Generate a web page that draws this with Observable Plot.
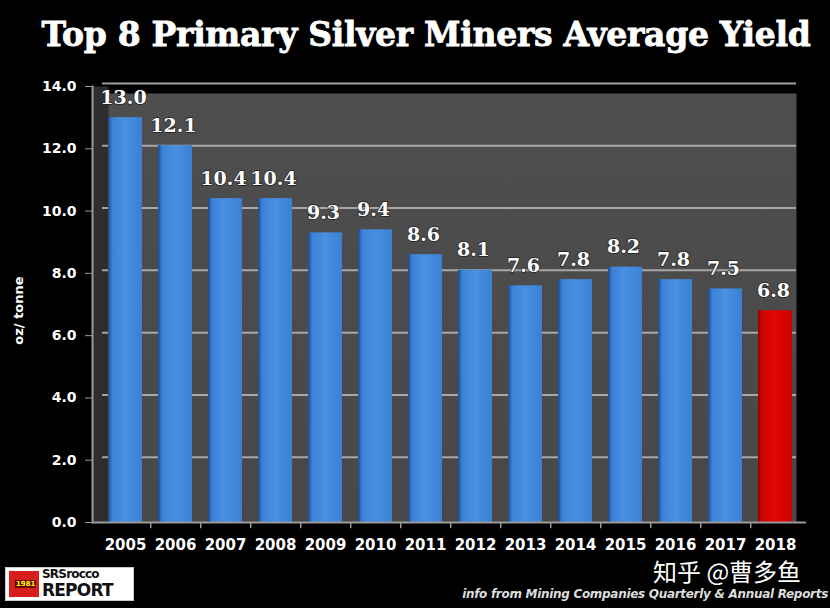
<!DOCTYPE html>
<html>
<head>
<meta charset="utf-8">
<script src="https://cdn.jsdelivr.net/npm/d3@7"></script>
<script src="https://cdn.jsdelivr.net/npm/@observablehq/plot@0.6"></script>
<style>
  html, body { margin: 0; padding: 0; background: #000; }
  #wrap { position: relative; width: 830px; height: 608px; overflow: hidden; background: #000; }
  #title { position: absolute; left: 0; top: 16px; width: 852px; text-align: center; line-height: 38px;
    font-family: "DejaVu Serif", serif; font-weight: bold; font-size: 33px; color: #fff;
    -webkit-text-stroke: 0.8px #fff; letter-spacing: -0.3px; white-space: nowrap; }
  #chart { position: absolute; left: 0; top: 70px; }
  #logo { position: absolute; left: 5px; top: 567px; width: 129px; height: 34px; background: #fff;
    border: 1px solid #ccc; box-sizing: border-box; }
  #logo .sq { position: absolute; left: 3px; top: 3px; width: 30px; height: 26px; background: #d81d1d; }
  #logo .sq span { position: absolute; left: 6px; top: 9px; font: bold 7px/8px "DejaVu Sans"; color: #ff0; background:#600; padding:0 1px; }
  #logo .l1 { position: absolute; left: 36px; top: 0px; font: bold 12px/12px "DejaVu Sans"; color: #111; letter-spacing: -0.8px; }
  #logo .l2 { position: absolute; left: 36px; top: 14px; font: bold 17px/16px "DejaVu Sans"; color: #111; letter-spacing: -0.8px; }
  #caption { position: absolute; right: 2px; top: 587px; font: italic bold 12px/14px "DejaVu Sans", sans-serif;
    color: #ddd; white-space: nowrap; letter-spacing: -0.3px; }
  #wm { position: absolute; left: 653px; top: 559px; font: 24px/24px "Noto Sans CJK SC", sans-serif; color: #fff; white-space: nowrap; }
</style>
</head>
<body>
<div id="wrap">
  <div id="title">Top 8 Primary Silver Miners Average Yield</div>
  <div id="chart"></div>
  <div id="logo"><div class="sq"><span>1981</span></div><div class="l1">SRSrocco</div><div class="l2">REPORT</div></div>
  <div id="wm">知乎 @曹多鱼</div>
  <div id="caption">info from Mining Companies Quarterly &amp; Annual Reports</div>
</div>
<script>
const years = ["2005","2006","2007","2008","2009","2010","2011","2012","2013","2014","2015","2016","2017","2018"];
const yields = [13.0, 12.1, 10.4, 10.4, 9.3, 9.4, 8.6, 8.1, 7.6, 7.8, 8.2, 7.8, 7.5, 6.8];
const yTicks = [0, 2, 4, 6, 8, 10, 12, 14];
const highlightYear = "2018";
const yLabel = "oz/ tonne";

const data = years.map((y, i) => ({year: y, value: yields[i], hi: y === highlightYear}));
const boundaries = years.slice(0, -1);

const chart = Plot.plot({
  width: 830,
  height: 495,
  marginLeft: 97,
  marginRight: 28,
  marginTop: 16,
  marginBottom: 43,
  style: {background: "transparent", color: "#fff", overflow: "visible"},
  x: {domain: years, paddingInner: 0.325, paddingOuter: 0.16},
  y: {domain: [0, 14], ticks: yTicks},
  marks: [
    Plot.frame({fill: "url(#wallGrad)", insetLeft: 5, insetRight: 6, insetTop: 7}),
    Plot.frame({fill: "#2e2e2e", insetLeft: -5, insetRight: 694, insetTop: 0}),
    Plot.gridY(yTicks.slice(1), {stroke: "#b8b8b8", strokeOpacity: 0.85, strokeWidth: 2, insetLeft: 5, insetRight: 6, dy: -3}),
    Plot.barY(data.filter(d => !d.hi), {x: "year", y: "value", fill: "url(#blueGrad)"}),
    Plot.barY(data.filter(d => d.hi), {x: "year", y: "value", fill: "url(#redGrad)"}),
    Plot.text(data, {x: "year", y: "value", text: d => d.value.toFixed(1), dy: -20, dx: -2,
      fill: "#fff", fontSize: 19, fontWeight: "bold", fontFamily: "DejaVu Serif", stroke: "#222", strokeWidth: 1.5, paintOrder: "stroke"}),
    Plot.ruleY([0], {stroke: "#9a9a9a", strokeWidth: 2, insetLeft: -5, insetRight: -4}),
    Plot.ruleX(boundaries, {x: d => d, y1: 0, y2: -0.2, dx: 25.2, stroke: "#9a9a9a", strokeWidth: 1.5}),
    Plot.frame({anchor: "left", stroke: "#9a9a9a", strokeWidth: 2, dx: -5}),
    Plot.axisY({ticks: yTicks, tickFormat: d => d.toFixed(1), tickSize: 7, tickPadding: 9, dx: -5,
      stroke: "#9a9a9a", fill: "#fff", fontSize: 14, fontWeight: "bold", fontFamily: "DejaVu Sans", label: null}),
    Plot.axisX({tickSize: 0, tickPadding: 17, fill: "#fff", fontSize: 15, fontWeight: "bold", fontFamily: "DejaVu Sans", label: null}),
    Plot.text([yLabel], {text: d => d, frameAnchor: "left", textAnchor: "middle", rotate: -90, dx: -79, dy: 6, fill: "#fff",
      fontSize: 13, fontWeight: "bold", fontFamily: "DejaVu Sans"})
  ]
});

const ns = "http://www.w3.org/2000/svg";
const defs = document.createElementNS(ns, "defs");
defs.innerHTML = `
  <linearGradient id="blueGrad" x1="0" x2="1" y1="0" y2="0">
    <stop offset="0" stop-color="#1c4a86"/>
    <stop offset="0.12" stop-color="#3a82d6"/>
    <stop offset="0.5" stop-color="#4a90e2"/>
    <stop offset="1" stop-color="#3b80d2"/>
  </linearGradient>
  <linearGradient id="redGrad" x1="0" x2="1" y1="0" y2="0">
    <stop offset="0" stop-color="#8a0000"/>
    <stop offset="0.12" stop-color="#d00000"/>
    <stop offset="0.5" stop-color="#e00808"/>
    <stop offset="1" stop-color="#cc0000"/>
  </linearGradient>
  <linearGradient id="wallGrad" x1="0" x2="0" y1="0" y2="1">
    <stop offset="0" stop-color="#4e4e4e"/>
    <stop offset="1" stop-color="#484848"/>
  </linearGradient>`;
chart.insertBefore(defs, chart.firstChild);
document.getElementById("chart").appendChild(chart);
</script>
</body>
</html>
